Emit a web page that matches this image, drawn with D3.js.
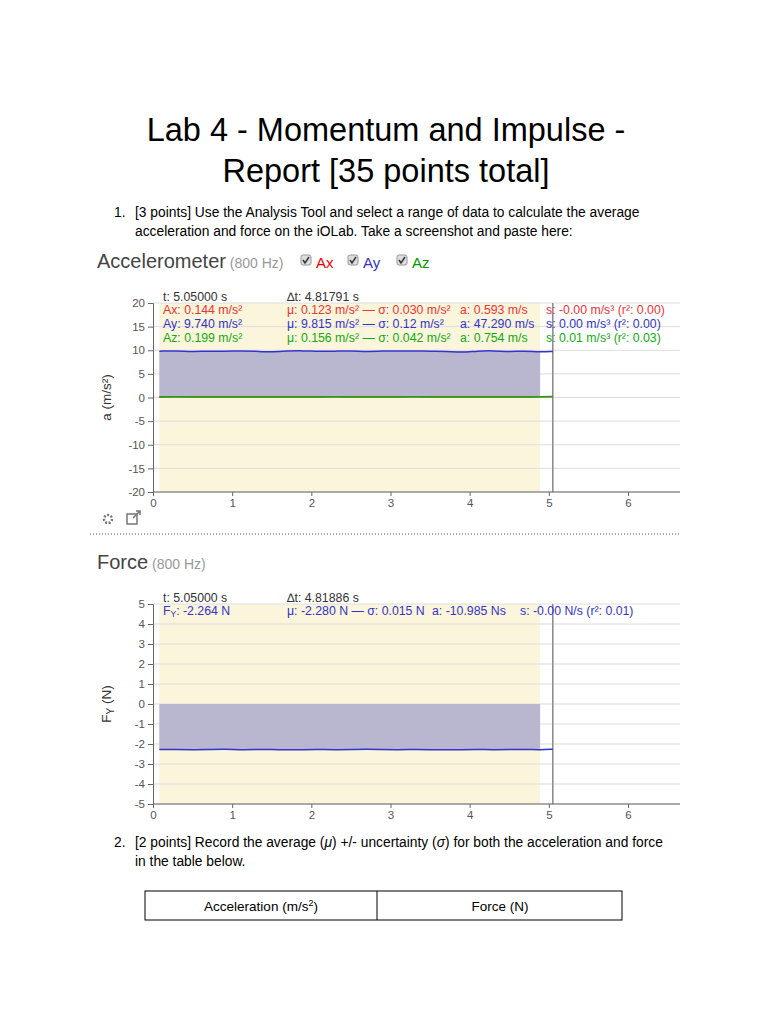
<!DOCTYPE html>
<html><head><meta charset="utf-8">
<script src="https://cdn.jsdelivr.net/npm/d3@7"></script>
<style>body{margin:0;background:#fff;font-family:"Liberation Sans",Arial,sans-serif}</style>
</head><body><svg id="c" width="768" height="1024"></svg>
<script>
// ---- data ----
const xTicks = [0,1,2,3,4,5,6];
const accYTicks = [20,15,10,5,0,-5,-10,-15,-20];
const forceYTicks = [5,4,3,2,1,0,-1,-2,-3,-4,-5];
const selStart = 0.08, selEnd = 4.89, cursorT = 5.05;
const sampleT = [0.08,0.3,0.5,0.7,0.9,1.1,1.3,1.5,1.7,1.9,2.1,2.3,2.5,2.7,2.9,3.1,3.3,3.5,3.7,3.9,4.1,4.3,4.5,4.7,4.89,5.05];
const ayVals = [9.8,9.9,9.7,9.85,9.75,9.9,9.8,9.6,9.85,9.9,9.75,9.8,9.9,9.7,9.85,9.8,9.9,9.75,9.8,9.5,9.85,9.9,9.7,9.85,9.6,9.74];
const axVals = [0.12,0.15,0.10,0.13,0.12,0.11,0.14,0.12,0.13,0.10,0.12,0.15,0.12,0.11,0.13,0.12,0.14,0.12,0.10,0.13,0.12,0.11,0.13,0.12,0.14,0.144];
const azVals = [0.15,0.17,0.14,0.16,0.15,0.18,0.15,0.14,0.16,0.17,0.15,0.16,0.14,0.15,0.17,0.16,0.15,0.14,0.16,0.15,0.17,0.15,0.16,0.14,0.16,0.199];
const fyVals = [-2.28,-2.27,-2.29,-2.28,-2.26,-2.29,-2.28,-2.27,-2.30,-2.28,-2.27,-2.29,-2.28,-2.26,-2.28,-2.29,-2.27,-2.28,-2.30,-2.28,-2.27,-2.29,-2.28,-2.27,-2.29,-2.264];
const ayMean = 9.815, fyMean = -2.280;

const svg = d3.select("#c");
const F = '"Liberation Sans",Arial,sans-serif';
const S = 12.3;
function txt(x,y,s,size,fill,anchor){const t=svg.append("text").attr("x",x).attr("y",y).attr("font-size",size).attr("fill",fill||"#000").attr("text-anchor",anchor||"start").attr("font-family",F);t.text(s);return t;}

txt(386,141,"Lab 4 - Momentum and Impulse -",32.5,"#000","middle");
txt(386,182,"Report [35 points total]",32.5,"#000","middle");
txt(114,217,"1.",13.8);
txt(135,217,"[3 points] Use the Analysis Tool and select a range of data to calculate the average",13.8);
txt(135,236,"acceleration and force on the iOLab. Take a screenshot and paste here:",13.8);

function checkbox(x,y){svg.append("rect").attr("x",x).attr("y",y).attr("width",10).attr("height",10).attr("rx",2).attr("fill","#ddd").attr("stroke","#999");
 svg.append("path").attr("d",`M${x+2},${y+5} L${x+4},${y+8} L${x+8},${y+2}`).attr("stroke","#333").attr("fill","none").attr("stroke-width",1.5);}
function heading(y,name,boxes){
 const t=txt(97,y,"",20,"#444");
 t.append("tspan").text(name);
 t.append("tspan").attr("font-size",14).attr("fill","#999").text(" (800 Hz)");
 boxes.forEach(b=>{checkbox(b.x,y-13);txt(b.x+15,y,b.s,15,b.c);});
}
heading(268,"Accelerometer",[{x:301,s:"Ax",c:"#e00"},{x:348,s:"Ay",c:"#33c"},{x:397,s:"Az",c:"#090"}]);
heading(569,"Force",[]);

const x = d3.scaleLinear().domain([0,6]).range([153,628]);
const fmt = d=>String(d);
function plot(top,bottom,yTicks,yLabel,series,fillMean,statFn){
 const y = d3.scaleLinear().domain([yTicks[yTicks.length-1],yTicks[0]]).range([bottom,top]);
 const g = svg.append("g");
 g.append("rect").attr("x",x(selStart)).attr("y",top).attr("width",x(selEnd)-x(selStart)).attr("height",bottom-top).attr("fill","#fbf5dc");
 g.selectAll(".gl").data(yTicks).enter().append("line").attr("x1",153).attr("x2",680).attr("y1",d=>y(d)).attr("y2",d=>y(d)).attr("stroke","#ddd");
 g.append("rect").attr("x",x(selStart)).attr("width",x(selEnd)-x(selStart)).attr("y",Math.min(y(0),y(fillMean))).attr("height",Math.abs(y(0)-y(fillMean))).attr("fill","#b9b6cf");
 g.append("line").attr("x1",x(cursorT)).attr("x2",x(cursorT)).attr("y1",top).attr("y2",bottom).attr("stroke","#888").attr("stroke-width",1.5);
 const ax = d3.axisLeft(y).tickValues(yTicks).tickSize(5).tickFormat(fmt);
 g.append("g").attr("transform","translate(153,0)").call(ax).call(s=>{s.select(".domain").attr("stroke","#666");s.selectAll("text").attr("fill","#555").attr("font-size",11.5).attr("font-family",F);s.selectAll("line").attr("stroke","#666");});
 const bx = d3.axisBottom(x).tickValues(xTicks).tickSize(4).tickFormat(fmt);
 g.append("g").attr("transform",`translate(0,${bottom})`).call(bx).call(s=>{s.select(".domain").attr("stroke","#666").attr("d","M153,0H680");s.selectAll("text").attr("fill","#555").attr("font-size",11.5).attr("font-family",F);s.selectAll("line").attr("stroke","#666");});
 series.forEach(sr=>{
  g.append("path").datum(sampleT.map((t,i)=>[t,sr.v[i]])).attr("d",d3.line().x(d=>x(d[0])).y(d=>y(d[1])).curve(d3.curveBasis)).attr("fill","none").attr("stroke",sr.c).attr("stroke-width",1.5);
 });
 const cy=(top+bottom)/2;
 svg.append("text").attr("transform",`translate(111,${cy}) rotate(-90)`).attr("text-anchor","middle").attr("font-size",13.5).attr("font-family",F).attr("fill","#333").html(yLabel);
 statFn(top);
}
plot(303,492,accYTicks,'a (m/s²)',[{v:axVals,c:"#e33"},{v:azVals,c:"#1a1"},{v:ayVals,c:"#33c"}],ayMean,top=>{
 txt(163,top-2,"t: 5.05000 s",S,"#333");
 txt(287,top-2,"∆t: 4.81791 s",S,"#333");
 const rows=[["Ax: 0.144 m/s²","μ: 0.123 m/s² — σ: 0.030 m/s²","a: 0.593 m/s","s: -0.00 m/s³ (r²: 0.00)","#e33"],
  ["Ay: 9.740 m/s²","μ: 9.815 m/s² — σ: 0.12 m/s²","a: 47.290 m/s","s: 0.00 m/s³ (r²: 0.00)","#33c"],
  ["Az: 0.199 m/s²","μ: 0.156 m/s² — σ: 0.042 m/s²","a: 0.754 m/s","s: 0.01 m/s³ (r²: 0.03)","#1a1"]];
 rows.forEach((r,i)=>{const yy=top+11+i*14;txt(163,yy,r[0],S,r[4]);txt(287,yy,r[1],S,r[4]);txt(460,yy,r[2],S,r[4]);txt(546,yy,r[3],S,r[4]);});
});
plot(604,804,forceYTicks,'F<tspan font-size="10" dy="3">Y</tspan><tspan dy="-3"> (N)</tspan>',[{v:fyVals,c:"#33c"}],fyMean,top=>{
 txt(163,top-2,"t: 5.05000 s",S,"#333");
 txt(287,top-2,"∆t: 4.81886 s",S,"#333");
 const t=txt(163,top+11,"",S,"#33c");t.append("tspan").text("F");t.append("tspan").attr("font-size",8.5).attr("dy",2).text("Y");t.append("tspan").attr("dy",-2).text(": -2.264 N");
 txt(287,top+11,"μ: -2.280 N — σ: 0.015 N",S,"#33c");
 txt(432,top+11,"a: -10.985 Ns",S,"#33c");
 txt(520,top+11,"s: -0.00 N/s (r²: 0.01)",S,"#33c");
});

// icons and separator
svg.append("circle").attr("cx",108).attr("cy",519).attr("r",4).attr("fill","none").attr("stroke","#777").attr("stroke-width",2.5).attr("stroke-dasharray","2 1.5");
svg.append("rect").attr("x",127).attr("y",514).attr("width",10).attr("height",10).attr("fill","none").attr("stroke","#777").attr("stroke-width",1.5);
svg.append("path").attr("d","M133,518 L140,511 M136,511 H140 V515").attr("stroke","#777").attr("fill","none").attr("stroke-width",1.5);
svg.append("line").attr("x1",90).attr("x2",680).attr("y1",534).attr("y2",534).attr("stroke","#555").attr("stroke-dasharray","1 2");

txt(114,847,"2.",13.8);
const q=txt(135,847,"[2 points] Record the average (",13.8);q.append("tspan").attr("font-style","italic").text("μ");q.append("tspan").text(") +/- uncertainty (");q.append("tspan").attr("font-style","italic").text("σ");q.append("tspan").text(") for both the acceleration and force");
txt(135,866,"in the table below.",13.8);
svg.append("rect").attr("x",145).attr("y",891).attr("width",477).attr("height",29).attr("fill","none").attr("stroke","#000");
svg.append("line").attr("x1",377).attr("x2",377).attr("y1",891).attr("y2",920).attr("stroke","#000");
const a=txt(261,911,"Acceleration (m/s",13.5,"#000","middle");a.append("tspan").attr("font-size",9).attr("dy",-5).text("2");a.append("tspan").attr("dy",5).text(")");
txt(500,911,"Force (N)",13.5,"#000","middle");
</script></body></html>
